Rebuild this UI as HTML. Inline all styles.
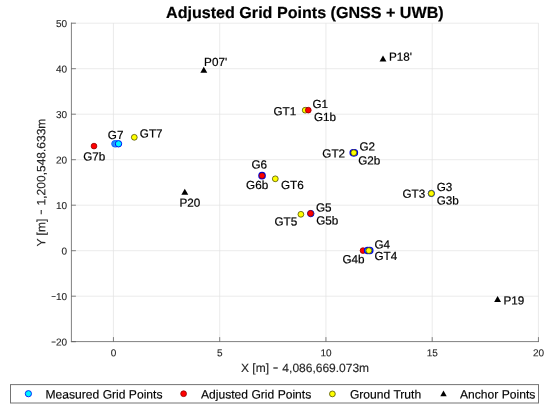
<!DOCTYPE html>
<html><head><meta charset="utf-8"><title>Adjusted Grid Points (GNSS + UWB)</title>
<style>
html,body{margin:0;padding:0;background:#fff;}
body{width:550px;height:413px;overflow:hidden;}
svg{display:block;}
text{font-family:'Liberation Sans', Arial, Helvetica, sans-serif;fill:#000;text-rendering:geometricPrecision;}
.tick{font-size:10px;fill:#262626;stroke:#262626;stroke-width:0.12px;}
.lab{font-size:12px;fill:#262626;stroke:#262626;stroke-width:0.15px;}
.ttl{font-size:16.1px;font-weight:bold;fill:#000;stroke:#000;stroke-width:0.2px;}
.dl{font-size:11.7px;fill:#000;stroke:#000;stroke-width:0.2px;}
.leg{font-size:12.1px;fill:#000;stroke:#000;stroke-width:0.15px;}
</style></head><body>
<svg width="550" height="413" viewBox="0 0 550 413">
<rect width="550" height="413" fill="#fff"/>

<line x1="113.45" y1="23.1" x2="113.45" y2="341.6" stroke="#e3e3e3" stroke-width="0.7"/>
<line x1="219.70" y1="23.1" x2="219.70" y2="341.6" stroke="#e3e3e3" stroke-width="0.7"/>
<line x1="325.95" y1="23.1" x2="325.95" y2="341.6" stroke="#e3e3e3" stroke-width="0.7"/>
<line x1="432.20" y1="23.1" x2="432.20" y2="341.6" stroke="#e3e3e3" stroke-width="0.7"/>
<line x1="538.45" y1="23.1" x2="538.45" y2="341.6" stroke="#e3e3e3" stroke-width="0.7"/>
<line x1="71.4" y1="23.20" x2="538.5" y2="23.20" stroke="#e3e3e3" stroke-width="0.7"/>
<line x1="71.4" y1="68.70" x2="538.5" y2="68.70" stroke="#e3e3e3" stroke-width="0.7"/>
<line x1="71.4" y1="114.20" x2="538.5" y2="114.20" stroke="#e3e3e3" stroke-width="0.7"/>
<line x1="71.4" y1="159.70" x2="538.5" y2="159.70" stroke="#e3e3e3" stroke-width="0.7"/>
<line x1="71.4" y1="205.20" x2="538.5" y2="205.20" stroke="#e3e3e3" stroke-width="0.7"/>
<line x1="71.4" y1="250.70" x2="538.5" y2="250.70" stroke="#e3e3e3" stroke-width="0.7"/>
<line x1="71.4" y1="296.20" x2="538.5" y2="296.20" stroke="#e3e3e3" stroke-width="0.7"/>
<line x1="71.4" y1="22.6" x2="71.4" y2="342.1" stroke="#808080" stroke-width="1"/>
<line x1="70.9" y1="341.6" x2="539.0" y2="341.6" stroke="#808080" stroke-width="1"/>
<line x1="113.45" y1="341.6" x2="113.45" y2="337.1" stroke="#505050" stroke-width="0.7"/>
<text class="tick" transform="translate(113.45,356.20) rotate(0.05)" text-anchor="middle">0</text>
<line x1="219.70" y1="341.6" x2="219.70" y2="337.1" stroke="#505050" stroke-width="0.7"/>
<text class="tick" transform="translate(219.70,356.20) rotate(0.05)" text-anchor="middle">5</text>
<line x1="325.95" y1="341.6" x2="325.95" y2="337.1" stroke="#505050" stroke-width="0.7"/>
<text class="tick" transform="translate(325.95,356.20) rotate(0.05)" text-anchor="middle">10</text>
<line x1="432.20" y1="341.6" x2="432.20" y2="337.1" stroke="#505050" stroke-width="0.7"/>
<text class="tick" transform="translate(432.20,356.20) rotate(0.05)" text-anchor="middle">15</text>
<line x1="538.45" y1="341.6" x2="538.45" y2="337.1" stroke="#505050" stroke-width="0.7"/>
<text class="tick" transform="translate(538.45,356.20) rotate(0.05)" text-anchor="middle">20</text>
<line x1="71.4" y1="23.20" x2="75.9" y2="23.20" stroke="#505050" stroke-width="0.7"/>
<text class="tick" transform="translate(67.00,27.10) rotate(0.05)" text-anchor="end">50</text>
<line x1="71.4" y1="68.70" x2="75.9" y2="68.70" stroke="#505050" stroke-width="0.7"/>
<text class="tick" transform="translate(67.00,72.60) rotate(0.05)" text-anchor="end">40</text>
<line x1="71.4" y1="114.20" x2="75.9" y2="114.20" stroke="#505050" stroke-width="0.7"/>
<text class="tick" transform="translate(67.00,118.10) rotate(0.05)" text-anchor="end">30</text>
<line x1="71.4" y1="159.70" x2="75.9" y2="159.70" stroke="#505050" stroke-width="0.7"/>
<text class="tick" transform="translate(67.00,163.60) rotate(0.05)" text-anchor="end">20</text>
<line x1="71.4" y1="205.20" x2="75.9" y2="205.20" stroke="#505050" stroke-width="0.7"/>
<text class="tick" transform="translate(67.00,209.10) rotate(0.05)" text-anchor="end">10</text>
<line x1="71.4" y1="250.70" x2="75.9" y2="250.70" stroke="#505050" stroke-width="0.7"/>
<text class="tick" transform="translate(67.00,254.60) rotate(0.05)" text-anchor="end">0</text>
<line x1="71.4" y1="296.20" x2="75.9" y2="296.20" stroke="#505050" stroke-width="0.7"/>
<text class="tick" transform="translate(67.00,300.10) rotate(0.05)" text-anchor="end"><tspan textLength="4.7" lengthAdjust="spacingAndGlyphs">−</tspan>10</text>
<line x1="71.4" y1="341.70" x2="75.9" y2="341.70" stroke="#505050" stroke-width="0.7"/>
<text class="tick" transform="translate(67.00,345.60) rotate(0.05)" text-anchor="end"><tspan textLength="4.7" lengthAdjust="spacingAndGlyphs">−</tspan>20</text>
<text class="ttl" transform="translate(304.85,18.00) rotate(0.05)" text-anchor="middle">Adjusted Grid Points (GNSS + UWB)</text>
<text class="lab" transform="translate(305.05,372.00) rotate(0.05)" text-anchor="middle">X [m] <tspan dx="0.6" textLength="5.1" lengthAdjust="spacingAndGlyphs">−</tspan><tspan dx="1.0"> 4,086,669.073m</tspan></text>
<text class="lab" transform="translate(45.20,182.60) rotate(-89.95)" text-anchor="middle">Y [m] <tspan dx="0.6" textLength="5.1" lengthAdjust="spacingAndGlyphs">−</tspan><tspan dx="1.0"> 1,200,548.633m</tspan></text>
<circle cx="114.9" cy="143.8" r="3.2" fill="#2aa8ff" stroke="#1058ff" stroke-width="1.0"/>
<circle cx="116.2" cy="143.8" r="3.2" fill="#2aa8ff" stroke="#1a70ff" stroke-width="0.8"/>
<circle cx="118.5" cy="143.8" r="3.2" fill="#00f4ff" stroke="#000cf4" stroke-width="1.0"/>
<circle cx="94" cy="146.1" r="2.85" fill="#ff0000" stroke="#900000" stroke-width="0.8"/>
<circle cx="134.3" cy="137.3" r="2.9" fill="#ffff00" stroke="#505000" stroke-width="0.8"/>
<text class="dl" transform="translate(107.80,139.10) rotate(0.05)">G7</text>
<text class="dl" transform="translate(139.80,137.60) rotate(0.05)">GT7</text>
<text class="dl" transform="translate(83.20,160.40) rotate(0.05)">G7b</text>
<circle cx="262.05" cy="175.65" r="3.1" fill="#00f4ff" stroke="#0000dc" stroke-width="1.4"/>
<circle cx="262.05" cy="175.65" r="2.7" fill="#ff0000" stroke="#900000" stroke-width="0.6"/>
<circle cx="275.3" cy="178.8" r="2.9" fill="#ffff00" stroke="#505000" stroke-width="0.8"/>
<text class="dl" transform="translate(251.50,168.50) rotate(0.05)">G6</text>
<text class="dl" transform="translate(246.10,189.10) rotate(0.05)">G6b</text>
<text class="dl" transform="translate(280.90,189.10) rotate(0.05)">GT6</text>
<circle cx="300.9" cy="214.3" r="2.9" fill="#ffff00" stroke="#505000" stroke-width="0.8"/>
<circle cx="310.8" cy="213.6" r="3.2" fill="#00f4ff" stroke="#000cf4" stroke-width="1.0"/>
<circle cx="310.5" cy="213.4" r="2.85" fill="#ff0000" stroke="#900000" stroke-width="0.8"/>
<text class="dl" transform="translate(316.00,211.50) rotate(0.05)">G5</text>
<text class="dl" transform="translate(316.20,224.60) rotate(0.05)">G5b</text>
<text class="dl" transform="translate(274.40,225.60) rotate(0.05)">GT5</text>
<circle cx="306.8" cy="107.9" r="1.0" fill="#0028ff" stroke="none" stroke-width="0"/>
<circle cx="305.2" cy="110.2" r="2.9" fill="#ffff00" stroke="#505000" stroke-width="0.8"/>
<circle cx="308.3" cy="110.15" r="2.85" fill="#ff0000" stroke="#900000" stroke-width="0.8"/>
<text class="dl" transform="translate(273.50,115.20) rotate(0.05)">GT1</text>
<text class="dl" transform="translate(312.40,108.10) rotate(0.05)">G1</text>
<text class="dl" transform="translate(313.90,121.10) rotate(0.05)">G1b</text>
<circle cx="353.2" cy="152.75" r="3.05" fill="#00f4ff" stroke="#0000dc" stroke-width="1.4"/>
<circle cx="354.4" cy="152.75" r="3.05" fill="#00f4ff" stroke="#0000dc" stroke-width="1.4"/>
<circle cx="353.8" cy="152.75" r="2.9" fill="#ffff00" stroke="#505000" stroke-width="0.8"/>
<text class="dl" transform="translate(322.30,157.50) rotate(0.05)">GT2</text>
<text class="dl" transform="translate(359.40,150.60) rotate(0.05)">G2</text>
<text class="dl" transform="translate(358.20,164.45) rotate(0.05)">G2b</text>
<circle cx="431.35" cy="193.45" r="3.15" fill="#00f4ff" stroke="#1828e0" stroke-width="1.0"/>
<circle cx="431.35" cy="193.45" r="2.9" fill="#ffff00" stroke="#505000" stroke-width="0.8"/>
<text class="dl" transform="translate(402.50,197.80) rotate(0.05)">GT3</text>
<text class="dl" transform="translate(436.70,191.10) rotate(0.05)">G3</text>
<text class="dl" transform="translate(436.70,204.40) rotate(0.05)">G3b</text>
<circle cx="363.0" cy="250.6" r="2.85" fill="#ff0000" stroke="#900000" stroke-width="0.8"/>
<circle cx="367.6" cy="250.6" r="3.1" fill="#00f4ff" stroke="#0008e8" stroke-width="1.3"/>
<circle cx="369.8" cy="250.6" r="3.1" fill="#00f4ff" stroke="#0008e8" stroke-width="1.3"/>
<circle cx="368.85" cy="250.6" r="2.9" fill="#ffff00" stroke="#505000" stroke-width="0.8"/>
<text class="dl" transform="translate(374.50,248.60) rotate(0.05)">G4</text>
<text class="dl" transform="translate(374.50,259.90) rotate(0.05)">GT4</text>
<text class="dl" transform="translate(342.40,263.30) rotate(0.05)">G4b</text>
<polygon points="200.35,72.85 207.25,72.85 203.80,66.75" fill="#000"/>
<text class="dl" transform="translate(204.10,66.10) rotate(0.05)">P07'</text>
<polygon points="379.55,61.50 386.45,61.50 383.00,55.40" fill="#000"/>
<text class="dl" transform="translate(388.90,60.80) rotate(0.05)">P18'</text>
<polygon points="181.35,194.85 188.25,194.85 184.80,188.75" fill="#000"/>
<text class="dl" transform="translate(179.50,206.80) rotate(0.05)">P20</text>
<polygon points="494.15,302.05 501.05,302.05 497.60,295.95" fill="#000"/>
<text class="dl" transform="translate(503.40,304.40) rotate(0.05)">P19</text>
<rect x="10.5" y="384.6" width="528" height="18.4" fill="#fff" stroke="#747474" stroke-width="1"/>
<circle cx="28.4" cy="393.7" r="3.12" fill="#00f4ff" stroke="#000cf4" stroke-width="0.85"/>
<text class="leg" transform="translate(45.50,398.50) rotate(0.05)">Measured Grid Points</text>
<circle cx="183.6" cy="393.7" r="2.9" fill="#ff0000" stroke="#900000" stroke-width="0.8"/>
<text class="leg" transform="translate(201.00,398.50) rotate(0.05)">Adjusted Grid Points</text>
<circle cx="332.4" cy="393.9" r="2.9" fill="#ffff00" stroke="#505000" stroke-width="0.8"/>
<text class="leg" transform="translate(349.90,398.50) rotate(0.05)">Ground Truth</text>
<polygon points="440.30,396.20 446.70,396.20 443.50,390.40" fill="#000"/>
<text class="leg" transform="translate(460.00,398.50) rotate(0.05)">Anchor Points</text>
</svg></body></html>
